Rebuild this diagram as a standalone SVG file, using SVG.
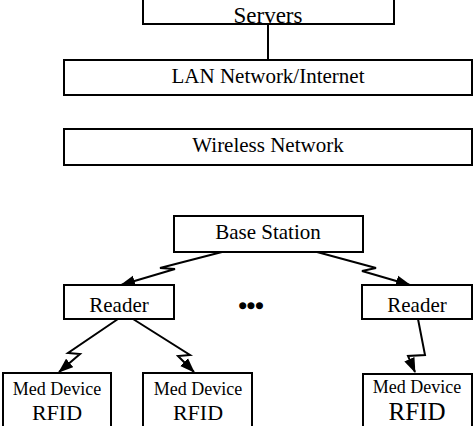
<svg xmlns="http://www.w3.org/2000/svg" width="474" height="426" viewBox="0 0 474 426">
<style>
.box{fill:#fff;stroke:#000;stroke-width:2}
.t{font-family:"Liberation Serif","Times New Roman",serif;fill:#000;text-anchor:middle}
.c{fill:none;stroke:#000;stroke-width:2;stroke-linejoin:miter;marker-end:url(#ah)}
</style>
<defs>
<marker id="ah" markerUnits="userSpaceOnUse" markerWidth="16" markerHeight="12" refX="14" refY="6" orient="auto">
<path d="M0,0.5 L15,6 L0,11.5 z" fill="#000"/>
</marker>
</defs>
<rect width="474" height="426" fill="#fff"/>
<g id="connectors">
<line x1="268" y1="24" x2="268" y2="60" stroke="#000" stroke-width="2"/>
<polyline class="c" points="222,252 160,268 175,269 121,285"/>
<polyline class="c" points="317,252 376,268 362,271 410,285"/>
<polyline class="c" points="118,319 68,353 80,354 59,372"/>
<polyline class="c" points="133,319 190,355 178,356 194,372"/>
<polyline class="c" points="418,319 425,355 408,356 415,372"/>
</g>
<g id="servers">
<rect class="box" x="143" y="-20" width="251" height="44"/>
<text class="t" x="268" y="23" font-size="23">Servers</text>
</g>
<g id="lan">
<rect class="box" x="64" y="60" width="408" height="35"/>
<text class="t" x="268" y="83" font-size="21">LAN Network/Internet</text>
</g>
<g id="wireless">
<rect class="box" x="64" y="129" width="408" height="36"/>
<text class="t" x="268" y="152" font-size="21">Wireless Network</text>
</g>
<g id="base-station">
<rect class="box" x="174" y="216" width="189" height="36"/>
<text class="t" x="268" y="239" font-size="21">Base Station</text>
</g>
<g id="reader-left">
<rect class="box" x="64" y="285" width="110" height="34"/>
<text class="t" x="119" y="312" font-size="21">Reader</text>
</g>
<g id="ellipsis">
<text class="t" x="251" y="314" font-size="24" stroke="#000" stroke-width="1.3">•••</text>
</g>
<g id="reader-right">
<rect class="box" x="362" y="285" width="110" height="34"/>
<text class="t" x="417" y="312" font-size="21">Reader</text>
</g>
<g id="med-left">
<rect class="box" x="3" y="373" width="108" height="70"/>
<text class="t" x="57" y="395" font-size="18">Med Device</text>
<text class="t" x="57" y="420" font-size="22">RFID</text>
</g>
<g id="med-middle">
<rect class="box" x="143" y="373" width="109" height="70"/>
<text class="t" x="198" y="395" font-size="18">Med Device</text>
<text class="t" x="198" y="420" font-size="22">RFID</text>
</g>
<g id="med-right">
<rect class="box" x="363" y="374" width="109" height="70"/>
<text class="t" x="417" y="393" font-size="18">Med Device</text>
<text class="t" x="417" y="420" font-size="25">RFID</text>
</g>
</svg>
